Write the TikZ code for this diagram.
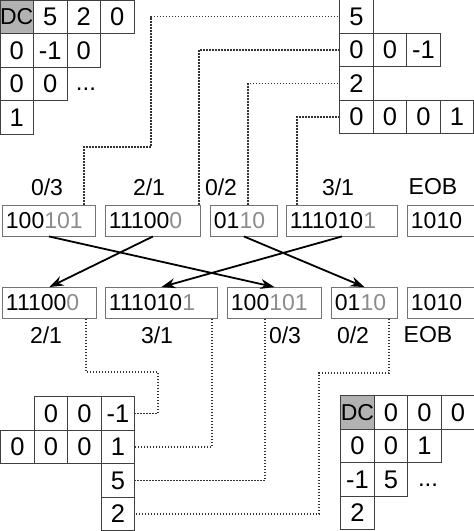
\documentclass[tikz,border=0pt]{standalone}
\usepackage{fontspec}
\setmainfont{Liberation Sans}
\usetikzlibrary{arrows.meta}
\newcommand\lowbits[1]{\textcolor{black!45}{#1}}
\tikzset{
  cell/.style={draw=black!75, line width=1pt, minimum size=33.5pt, inner sep=0pt, font=\fontsize{25.5}{25.5}\selectfont},
  dccell/.style={cell, fill=black!30, font=\fontsize{23}{23}\selectfont},
  codebox/.style={draw=black!55, line width=0.9pt, anchor=west, minimum height=31pt, inner xsep=3.5pt, inner ysep=0pt, align=left, font=\fontsize{23}{23}\selectfont},
  pairlbl/.style={font=\fontsize{23}{23}\selectfont},
}
\begin{document}
\begin{tikzpicture}[
  x=1pt, y=-1pt,
  link/.style={black!80, line width=1.2pt, dash pattern=on 1.2pt off 1.8pt},
  swaparr/.style={-{Stealth[length=14pt,width=10pt]}, line width=1.8pt},
]
  \useasboundingbox (0,0) rectangle (474,531);

  % zigzag block, top left
  \node[dccell] (p11) at (16.75,16.75) {DC};
  \node[cell] (p12) at (50.25,16.75) {5};
  \node[cell] (p13) at (83.75,16.75) {2};
  \node[cell] (p14) at (117.25,16.75) {0};
  \node[cell] (p21) at (16.75,50.25) {0};
  \node[cell] (p22) at (50.25,50.25) {-1};
  \node[cell] (p23) at (83.75,50.25) {0};
  \node[cell] (p31) at (16.75,83.75) {0};
  \node[cell] (p32) at (50.25,83.75) {0};
  \node[font=\fontsize{24}{24}\selectfont, inner sep=0pt] (p33) at (86,89) {...};
  \node[cell] (p41) at (16.75,117.25) {1};

  % run/value groups, top right
  \node[cell] (z5) at (356.5,16.5) {5};
  \node[cell] (za1) at (356.5,50) {0};
  \node[cell] (za2) at (390,50) {0};
  \node[cell] (za3) at (423.5,50) {-1};
  \node[cell] (z2) at (356.5,83.5) {2};
  \node[cell] (zb1) at (356.5,117) {0};
  \node[cell] (zb2) at (390,117) {0};
  \node[cell] (zb3) at (423.5,117) {0};
  \node[cell] (zb4) at (457,117) {1};

  % codes in first order
  \node[pairlbl] (l1) at (47,187) {0/3};
  \node[pairlbl] (l2) at (149,187) {2/1};
  \node[pairlbl] (l3) at (221,187) {0/2};
  \node[pairlbl] (l4) at (338,187) {3/1};
  \node[pairlbl] (l5) at (433,187) {EOB};
  \node[codebox, text width=86pt] (t1) at (2,220.5) {100\lowbits{101}};
  \node[codebox, text width=88pt] (t2) at (105,220.5) {11100\lowbits{0}};
  \node[codebox, text width=60pt] (t3) at (210,220.5) {01\lowbits{10}};
  \node[codebox, text width=104pt] (t4) at (286,220.5) {111010\lowbits{1}};
  \node[codebox, text width=66pt] (t5) at (407,220.5) {1010};

  % codes after shuffling
  \node[codebox, text width=87pt] (b1) at (2,303) {11100\lowbits{0}};
  \node[codebox, text width=105pt] (b2) at (105,303) {111010\lowbits{1}};
  \node[codebox, text width=87pt] (b3) at (227,303) {100\lowbits{101}};
  \node[codebox, text width=59pt] (b4) at (331,303) {01\lowbits{10}};
  \node[codebox, text width=66pt] (b5) at (407,303) {1010};
  \node[pairlbl] (k1) at (46,335) {2/1};
  \node[pairlbl] (k2) at (157,335) {3/1};
  \node[pairlbl] (k3) at (285,335) {0/3};
  \node[pairlbl] (k4) at (353,335) {0/2};
  \node[pairlbl] (k5) at (428,335) {EOB};

  % decoded groups, bottom left
  \node[cell] (m11) at (51,413.5) {0};
  \node[cell] (m12) at (84.5,413.5) {0};
  \node[cell] (m1) at (118,413.5) {-1};
  \node[cell] (m21) at (17.5,447) {0};
  \node[cell] (m22) at (51,447) {0};
  \node[cell] (m23) at (84.5,447) {0};
  \node[cell] (m2) at (118,447) {1};
  \node[cell] (m3) at (118,480.5) {5};
  \node[cell] (m4) at (118,514) {2};

  % scrambled block, bottom right
  \node[dccell] (s11) at (357.5,412.5) {DC};
  \node[cell] (s12) at (391,412.5) {0};
  \node[cell] (s13) at (424.5,412.5) {0};
  \node[cell] (s14) at (458,412.5) {0};
  \node[cell] (s21) at (357.5,446) {0};
  \node[cell] (s22) at (391,446) {0};
  \node[cell] (s23) at (424.5,446) {1};
  \node[cell] (s31) at (357.5,479.5) {-1};
  \node[cell] (s32) at (391,479.5) {5};
  \node[font=\fontsize{24}{24}\selectfont, inner sep=0pt] (s33) at (428,485) {...};
  \node[cell] (s41) at (357.5,513) {2};

  \draw[swaparr] (t1.south) -- (b3.north);
  \draw[swaparr] (t2.south) -- (b1.north);
  \draw[swaparr] (t3.south) -- (b4.north);
  \draw[swaparr] (t4.south) -- (b2.north);

  \draw[link] (84,0 |- t1.north) |- (151,147) |- (z5.west);
  \draw[link] (199,0 |- t2.north) |- (za1.west);
  \draw[link] (248,0 |- t3.north) |- (z2.west);
  \draw[link] (297,0 |- t4.north) |- (zb1.west);

  \draw[link] (86,0 |- b1.south) |- (158,372) |- (m1.east);
  \draw[link] (212,0 |- b2.south) |- (m2.east);
  \draw[link] (265,0 |- b3.south) |- (m3.east);
  \draw[link] (389,0 |- b4.south) |- (319,373) |- (m4.east);
\end{tikzpicture}
\end{document}
